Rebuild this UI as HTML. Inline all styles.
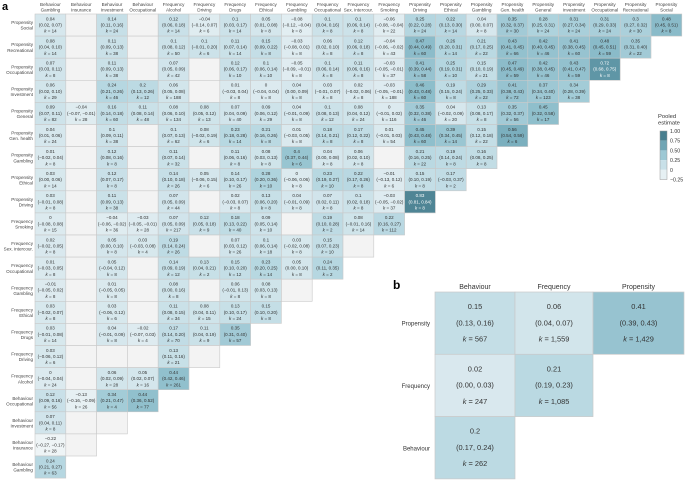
<!DOCTYPE html>
<html><head><meta charset="utf-8">
<style>
html,body{margin:0;padding:0;background:#fff;}
svg{display:block;font-family:"Liberation Sans",sans-serif;}
</style></head>
<body>
<svg id="chart" width="685" height="480" viewBox="0 0 685 480" xmlns="http://www.w3.org/2000/svg">
<text x="2" y="10" font-size="11" font-weight="bold">a</text>
<text x="393" y="289" font-size="12" font-weight="bold">b</text>
<g id="gridA"></g>
<g id="gridB"></g>
<g id="legend"></g>
</svg>
<script>
const colLabels=[["Behaviour","Gambling"],["Behaviour","Insurance"],["Behaviour","Investment"],["Behaviour","Occupational"],["Frequency","Alcohol"],["Frequency","Driving"],["Frequency","Drugs"],["Frequency","Ethical"],["Frequency","Gambling"],["Frequency","Occupational"],["Frequency","Sex. intercour."],["Frequency","Smoking"],["Propensity","Driving"],["Propensity","Ethical"],["Propensity","Gambling"],["Propensity","Gen. health"],["Propensity","General"],["Propensity","Investment"],["Propensity","Occupational"],["Propensity","Recreational"],["Propensity","Social"]];
const rowLabels=[["Propensity","Social"],["Propensity","Recreational"],["Propensity","Occupational"],["Propensity","Investment"],["Propensity","General"],["Propensity","Gen. health"],["Propensity","Gambling"],["Propensity","Ethical"],["Propensity","Driving"],["Frequency","Smoking"],["Frequency","Sex. intercour."],["Frequency","Occupational"],["Frequency","Gambling"],["Frequency","Ethical"],["Frequency","Drugs"],["Frequency","Driving"],["Frequency","Alcohol"],["Behaviour","Occupational"],["Behaviour","Investment"],["Behaviour","Insurance"],["Behaviour","Gambling"]];
const N=null;
const est=[
[0.04,N,0.14,N,0.12,-0.04,0.1,0.05,-0.08,0.1,0.1,-0.06,0.25,0.22,0.04,0.35,0.28,0.31,0.31,0.3,0.48],
[0.08,N,0.11,N,0.1,0.1,0.11,0.15,-0.03,0.06,0.12,-0.04,0.47,0.26,0.21,0.43,0.42,0.41,0.48,0.35],
[0.07,N,0.11,N,0.07,N,0.12,0.1,-0.05,0.1,0.11,-0.03,0.41,0.25,0.15,0.47,0.42,0.43,0.72],
[0.06,N,0.24,0.2,0.06,N,0.01,0,0.04,0.03,0.02,-0.03,0.46,0.19,0.29,0.41,0.37,0.34],
[0.09,-0.04,0.16,0.11,0.08,0.08,0.07,0.09,0.04,0.1,0.08,0,0.35,0.04,0.13,0.35,0.45],
[0.04,N,0.1,N,0.1,0.08,0.23,0.21,0.01,0.18,0.17,0.01,0.45,0.39,0.15,0.56],
[0.01,N,0.12,N,0.11,N,0.11,0.08,0.4,0.04,0.06,N,0.21,0.19,0.16],
[0.03,N,0.12,N,0.14,0.05,0.14,0.28,0,0.23,0.22,-0.01,0.15,0.17],
[0.03,N,0.11,N,0.07,N,0.02,0.13,0.04,0.07,0.1,-0.03,0.83],
[0,N,-0.04,-0.03,0.07,0.12,0.18,0.09,N,0.19,0.08,0.22],
[0.02,N,0.05,0.03,0.19,N,0.07,0.1,0.03,0.15,N],
[0.01,N,0.05,N,0.14,0.13,0.15,0.23,0.05,0.24],
[-0.01,N,0.01,N,0.08,N,0.06,0.08,N],
[0.03,N,0.03,N,0.11,0.08,0.13,0.15],
[0.03,N,0.04,-0.02,0.17,0.11,0.35],
[0.03,N,N,N,0.13,N],
[0,N,0.06,0.05,0.44],
[0.12,-0.13,0.34,0.44],
[0.07,N,N],
[-0.22,N],
[0.24]];
const lo=[
[0.02,N,0.11,N,0.06,-0.14,0.03,0.01,-0.12,0.04,0.06,-0.08,0.22,0.13,0.00,0.32,0.25,0.27,0.29,0.27,0.45],
[0.04,N,0.09,N,0.08,-0.01,0.07,0.09,-0.08,0.02,0.06,-0.06,0.44,0.20,0.17,0.41,0.40,0.38,0.45,0.31],
[0.03,N,0.09,N,0.05,N,0.06,0.06,-0.09,0.06,0.06,-0.05,0.39,0.19,0.10,0.45,0.38,0.41,0.68],
[0.02,N,0.21,0.13,0.05,N,-0.03,-0.04,0.00,-0.01,-0.02,-0.05,0.43,0.15,0.25,0.38,0.34,0.28],
[0.07,-0.07,0.14,0.08,0.06,0.05,0.04,0.06,-0.01,0.08,0.04,-0.01,0.32,-0.02,0.08,0.32,0.32],
[0.01,N,0.09,N,0.07,-0.02,0.18,0.16,-0.03,0.14,0.12,-0.01,0.43,0.34,0.12,0.54],
[-0.02,N,0.08,N,0.07,N,0.06,0.03,0.37,0.00,0.02,N,0.16,0.14,0.08],
[0.00,N,0.07,N,0.10,-0.06,0.10,0.20,-0.06,0.19,0.17,-0.13,0.10,-0.03],
[-0.01,N,0.09,N,0.05,N,-0.03,0.06,-0.01,0.02,0.02,-0.05,0.81],
[-0.08,N,-0.06,-0.05,0.05,0.05,0.13,0.05,N,0.10,-0.01,0.16],
[-0.02,N,0.00,-0.03,0.14,N,0.03,0.06,-0.02,0.07,N],
[-0.03,N,-0.04,N,0.09,0.04,0.10,0.20,0.00,0.11],
[-0.05,N,-0.05,N,0.00,N,-0.01,0.03,N],
[-0.02,N,-0.06,N,0.08,0.04,0.10,0.10],
[-0.01,N,-0.01,-0.07,0.14,0.04,0.31],
[-0.06,N,N,N,0.11,N],
[-0.04,N,0.02,0.02,0.42],
[0.09,-0.16,0.21,0.36],
[0.04,N,N],
[-0.27,N],
[0.21]];
const hi=[
[0.07,N,0.16,N,0.18,0.07,0.17,0.08,-0.04,0.16,0.14,-0.04,0.28,0.30,0.07,0.37,0.31,0.34,0.33,0.32,0.51],
[0.10,N,0.13,N,0.12,0.20,0.14,0.22,0.01,0.10,0.18,-0.02,0.49,0.31,0.25,0.45,0.45,0.45,0.51,0.40],
[0.11,N,0.13,N,0.09,N,0.17,0.14,-0.01,0.14,0.16,-0.01,0.44,0.31,0.19,0.49,0.45,0.47,0.75],
[0.10,N,0.26,0.26,0.08,N,0.04,0.04,0.09,0.07,0.06,-0.01,0.48,0.24,0.33,0.43,0.40,0.39],
[0.11,-0.01,0.18,0.14,0.10,0.12,0.09,0.12,0.09,0.13,0.12,0.02,0.38,0.09,0.17,0.37,0.58],
[0.06,N,0.11,N,0.13,0.19,0.28,0.26,0.05,0.21,0.22,0.03,0.48,0.45,0.18,0.59],
[0.04,N,0.16,N,0.14,N,0.16,0.13,0.44,0.08,0.10,N,0.25,0.24,0.25],
[0.06,N,0.17,N,0.18,0.15,0.17,0.36,0.06,0.27,0.26,0.12,0.19,0.37],
[0.08,N,0.13,N,0.09,N,0.07,0.20,0.09,0.11,0.18,-0.02,0.84],
[0.08,N,-0.02,-0.01,0.09,0.18,0.22,0.14,N,0.28,0.16,0.27],
[0.05,N,0.10,0.08,0.24,N,0.12,0.14,0.08,0.23,N],
[0.05,N,0.12,N,0.19,0.21,0.20,0.25,0.10,0.35],
[0.02,N,0.05,N,0.16,N,0.13,0.13,N],
[0.07,N,0.12,N,0.15,0.11,0.17,0.20],
[0.08,N,0.09,0.03,0.20,0.19,0.40],
[0.12,N,N,N,0.16,N],
[0.04,N,0.09,0.07,0.46],
[0.16,-0.09,0.47,0.52],
[0.11,N,N],
[-0.17,N],
[0.27]];
const kval=[
[14,N,24,N,14,6,14,8,8,8,8,22,24,14,8,30,24,24,24,30,8],
[14,N,38,N,50,6,14,8,8,8,8,43,60,14,22,66,46,60,59,22],
[8,N,38,N,42,N,10,10,8,8,8,37,58,10,21,59,46,59,8],
[29,N,46,12,188,N,8,8,8,8,8,188,60,8,22,72,123,38],
[82,28,60,48,134,13,40,29,8,12,24,116,46,20,8,56,17],
[24,N,38,N,62,6,14,8,8,8,8,54,60,14,22,6],
[8,N,8,N,32,N,8,8,6,8,8,N,22,8,8],
[14,N,8,N,26,6,26,10,8,10,8,6,8,2],
[8,N,38,N,44,N,8,8,8,8,8,37,8],
[15,N,36,28,217,9,40,10,N,2,14,112],
[8,N,8,4,26,N,26,18,8,10,N],
[8,N,8,N,12,2,12,14,8,2],
[8,N,8,N,8,N,8,8,N],
[8,N,6,N,34,15,24,8],
[14,N,8,4,70,9,57],
[6,N,N,N,21,N],
[24,N,28,16,261],
[56,26,4,77],
[8,N,N],
[28,N],
[63]];
// panel b
const bRows=["Propensity","Frequency","Behaviour"];
const bCols=["Behaviour","Frequency","Propensity"];
const bEst=[[0.15,0.06,0.41],[0.02,0.21],[0.2]];
const bLo=[[0.13,0.04,0.39],[0.00,0.19],[0.17]];
const bHi=[[0.16,0.07,0.43],[0.03,0.23],[0.24]];
const bK=[["567","1,559","1,429"],["247","1,085"],["262"]];
const legendTicks=[1.00,0.75,0.50,0.25,0,-0.25];

const NS="http://www.w3.org/2000/svg";
function mk(tag,attrs,parent){const e=document.createElementNS(NS,tag);for(const k in attrs)e.setAttribute(k,attrs[k]);parent.appendChild(e);return e;}
const stops=[[-0.25,[240,245,247]],[0,[220,234,239]],[0.25,[180,214,224]],[0.5,[134,185,199]],[0.75,[90,145,161]],[1,[56,108,124]]];
function colour(v){
  if(v<=stops[0][0])return "rgb("+stops[0][1]+")";
  for(let i=1;i<stops.length;i++){if(v<=stops[i][0]){const a=stops[i-1],b=stops[i];const t=(v-a[0])/(b[0]-a[0]);return "rgb("+a[1].map((c,j)=>Math.round(c+(b[1][j]-c)*t)).join(",")+")";}}
  return "rgb("+stops[stops.length-1][1]+")";
}
function fmtE(v){let s=(Math.round(v*100)/100).toString();return s.replace("-","\u2212");}
function fmt2(v){return v.toFixed(2).replace("-","\u2212");}
// axis functions
const x0=35,cw=30.8,y0=14,rh=22.1;
function xA(c){return x0+c*cw;}
function yA(r){return y0+r*rh;}
const gA=document.getElementById("gridA");
colLabels.forEach((l,c)=>{
  const t=mk("text",{x:xA(c)+cw/2,y:6,"font-size":"4.6","text-anchor":"middle",fill:"#444"},gA);
  
  
  mk("tspan",{x:xA(c)+cw/2,dy:0},t).textContent=l[0];
  mk("tspan",{x:xA(c)+cw/2,dy:5.6},t).textContent=l[1];
});
rowLabels.forEach((l,r)=>{
  const t=mk("text",{x:33,y:yA(r)+rh/2-1,"font-size":"4.6","text-anchor":"end",fill:"#444"},gA);
  
  
  mk("tspan",{x:33,dy:0},t).textContent=l[0];
  mk("tspan",{x:33,dy:5.6},t).textContent=l[1];
});
est.forEach((row,r)=>{
  row.forEach((v,c)=>{
    const x=xA(c),y=yA(r);
    const rect=mk("rect",{x:x,y:y,width:cw,height:rh,fill:v===null?"#f3f3f3":colour(v),stroke:"#c9c9c9","stroke-width":"0.6"},gA);
    
    
    if(v===null)return;
    const tc=v>0.6?"#fff":"#333";
    const t=mk("text",{x:x+cw/2,y:y+6.3,"font-size":"4.5","text-anchor":"middle",fill:tc},gA);
    
    
    mk("tspan",{x:x+cw/2,dy:0},t).textContent=fmtE(v);
    mk("tspan",{x:x+cw/2,dy:6.2},t).textContent="("+fmt2(lo[r][c])+", "+fmt2(hi[r][c])+")";
    const ks=mk("tspan",{x:x+cw/2,dy:6.2},t);
    mk("tspan",{"font-style":"italic"},ks).textContent="k";
    ks.appendChild(document.createTextNode(" = "+kval[r][c]));
  });
});
// panel b
const gB=document.getElementById("gridB");
const bx0=435,bcw=[80,78,91],by0=292,brh=62.3;
function xB(c){let x=bx0;for(let i=0;i<c;i++)x+=bcw[i];return x;}
function yB(r){return by0+r*brh;}
bCols.forEach((l,c)=>{
  const t=mk("text",{x:xB(c)+bcw[c]/2,y:289,"font-size":"7","text-anchor":"middle",fill:"#333"},gB);
  
  
  t.textContent=l;
});
bRows.forEach((l,r)=>{
  const t=mk("text",{x:430,y:yB(r)+brh/2+2.5,"font-size":"6","text-anchor":"end",fill:"#333"},gB);
  
  
  t.textContent=l;
});
bEst.forEach((row,r)=>{
  row.forEach((v,c)=>{
    const x=xB(c),y=yB(r),w=bcw[c];
    const rect=mk("rect",{x:x,y:y,width:w,height:brh,fill:colour(v),stroke:"#c9c9c9","stroke-width":"0.7"},gB);
    
    
    const t=mk("text",{x:x+w/2,y:y+17,"font-size":"7.4","text-anchor":"middle",fill:"#333"},gB);
    
    
    mk("tspan",{x:x+w/2,dy:0},t).textContent=fmtE(v);
    mk("tspan",{x:x+w/2,dy:16.3},t).textContent="("+fmt2(bLo[r][c])+", "+fmt2(bHi[r][c])+")";
    const ks=mk("tspan",{x:x+w/2,dy:16.3},t);
    mk("tspan",{"font-style":"italic"},ks).textContent="k";
    ks.appendChild(document.createTextNode(" = "+bK[r][c]));
  });
});
// legend
const gL=document.getElementById("legend");
const lt=mk("text",{x:658,y:118,"font-size":"5.8",fill:"#333"},gL);


mk("tspan",{x:658,dy:0},lt).textContent="Pooled";
mk("tspan",{x:658,dy:6.5},lt).textContent="estimate";
const ly0=131,lstep=9.7;
function yL(i){return ly0+i*lstep;}
legendTicks.forEach((v,i)=>{
  if(i<legendTicks.length-1){
    const r=mk("rect",{x:660,y:yL(i),width:7,height:lstep,fill:colour((v+legendTicks[i+1])/2)},gL);
    
    
  }
  const t=mk("text",{x:670,y:yL(i)+2,"font-size":"5.2",fill:"#333"},gL);
  
  
  t.textContent=v===0?"0":v.toFixed(2).replace("-","\u2212");
});
const lb=mk("rect",{x:660,y:ly0,width:7,height:lstep*5,fill:"none",stroke:"#999","stroke-width":"0.5"},gL);


</script>
</body></html>
